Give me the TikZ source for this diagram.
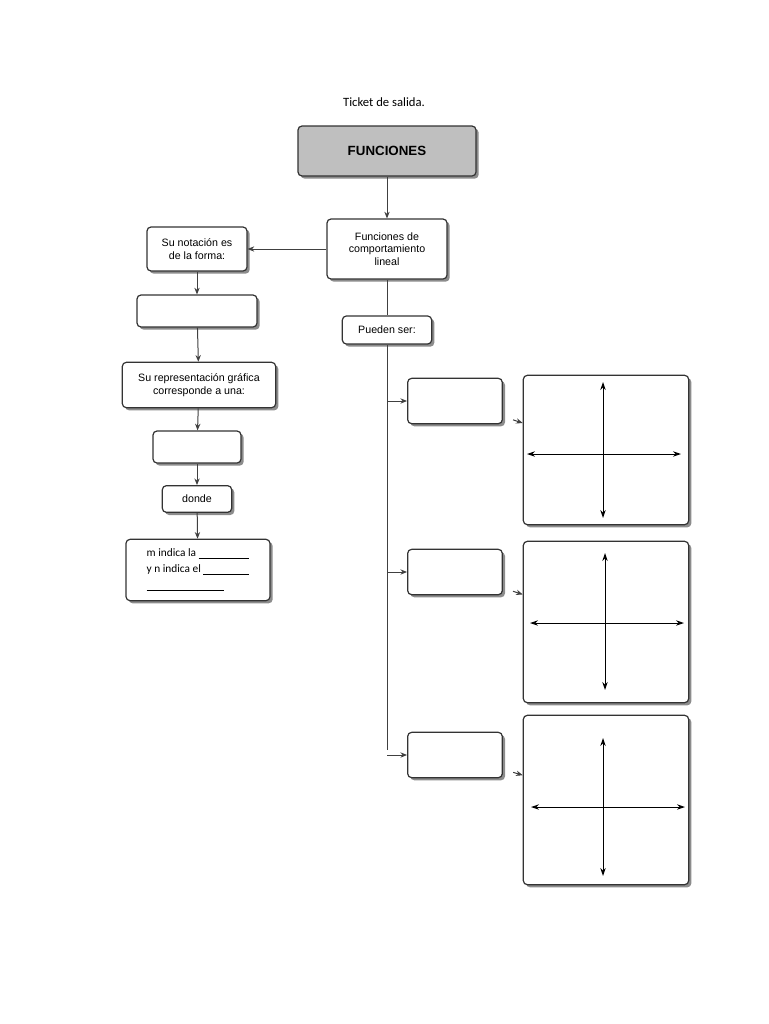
\documentclass[tikz,border=0pt]{standalone}
\usepackage{fontspec}
\setmainfont{Liberation Sans}
\newfontfamily\calib{Carlito}
\usetikzlibrary{arrows.meta,shadows}
\tikzset{every picture/.style={line width=0.75pt}}
\tikzset{
  caja/.style={draw=black!80, rounded corners=3pt, fill=white, line width=0.9pt,
    drop shadow={shadow xshift=2pt, shadow yshift=-2pt, fill=black!45, opacity=1},
    align=center, font=\fontsize{8}{9.5}\selectfont, inner sep=2pt},
  flecha/.style={-{Stealth[length=5pt,width=4pt]}, black!75},
  eje/.style={{Stealth[length=6pt,width=4pt]}-{Stealth[length=6pt,width=4pt]}, black}
}
\begin{document}
\begin{tikzpicture}[x=0.75pt,y=0.75pt,yscale=-1,xscale=1]
\useasboundingbox (0,0) rectangle (768,1024);

% Title
\node (titulo) at (384,102) {\calib\fontsize{9.5}{11}\selectfont Ticket de salida.};

% main boxes
\node[caja, fill=black!25, minimum width=133.5pt, minimum height=37.5pt, font=\bfseries\fontsize{10}{12}\selectfont] (fun) at (387,151) {FUNCIONES};
\node[caja, minimum width=90pt, minimum height=45pt] (lin) at (387,249) {Funciones de\\comportamiento\\lineal};
\node[caja, minimum width=75pt, minimum height=33pt] (nota) at (197,249) {Su notación es\\de la forma:};
\node[caja, minimum width=90pt, minimum height=24pt] (blanco1) at (197,311) {};
\node[caja, minimum width=115pt, minimum height=34pt] (rep) at (199,385) {Su representación gráfica\\corresponde a una:};
\node[caja, minimum width=66pt, minimum height=24pt] (blanco2) at (197,447) {};
\node[caja, minimum width=52pt, minimum height=20pt] (donde) at (197,499) {donde};
\node[caja, minimum width=108pt, minimum height=46pt, align=left, font=\calib\fontsize{8.5}{12}\selectfont] (mtexto) at (198,570) {m indica la \underline{\hspace{38pt}}\\y n indica el \underline{\hspace{34pt}}\\\underline{\hspace{58pt}}};
\node[caja, minimum width=67pt, minimum height=21pt] (pueden) at (387,330) {Pueden ser:};

% left chain
\draw[flecha] (fun) -- (lin);
\draw[flecha] (lin) -- (nota);
\draw[flecha] (nota) -- (blanco1);
\draw[flecha] (blanco1) -- (rep);
\draw[flecha] (rep) -- (blanco2);
\draw[flecha] (blanco2) -- (donde);
\draw[flecha] (donde) -- (mtexto);
\draw[black!75] (lin) -- (pueden);
\coordinate (tronco) at (387,750);
\draw[black!75] (pueden) -- (tronco);

% three branches
\foreach \i/\y/\yg/\hg in {1/401/450/112, 2/572/622/121, 3/755/800/127}{
  \node[caja, minimum width=71pt, minimum height=34pt] (tipo\i) at (455,\y) {};
  \node[caja, minimum width=124pt, minimum height=\hg pt] (graf\i) at (606,\yg) {};
  \coordinate (rama\i) at (387,\y);
  \draw[flecha] (rama\i) -- (tipo\i);
  \draw[flecha, shorten <=8pt] (tipo\i) -- (graf\i);
}

% axes
\coordinate (v1a) at (603,382); \coordinate (v1b) at (603,518);
\coordinate (h1a) at (527,454); \coordinate (h1b) at (681,454);
\draw[eje] (v1a) -- (v1b); \draw[eje] (h1a) -- (h1b);
\coordinate (v2a) at (605,553); \coordinate (v2b) at (605,690);
\coordinate (h2a) at (530,623); \coordinate (h2b) at (684,623);
\draw[eje] (v2a) -- (v2b); \draw[eje] (h2a) -- (h2b);
\coordinate (v3a) at (603,738); \coordinate (v3b) at (603,876);
\coordinate (h3a) at (531,807); \coordinate (h3b) at (685,807);
\draw[eje] (v3a) -- (v3b); \draw[eje] (h3a) -- (h3b);
\end{tikzpicture}
\end{document}
